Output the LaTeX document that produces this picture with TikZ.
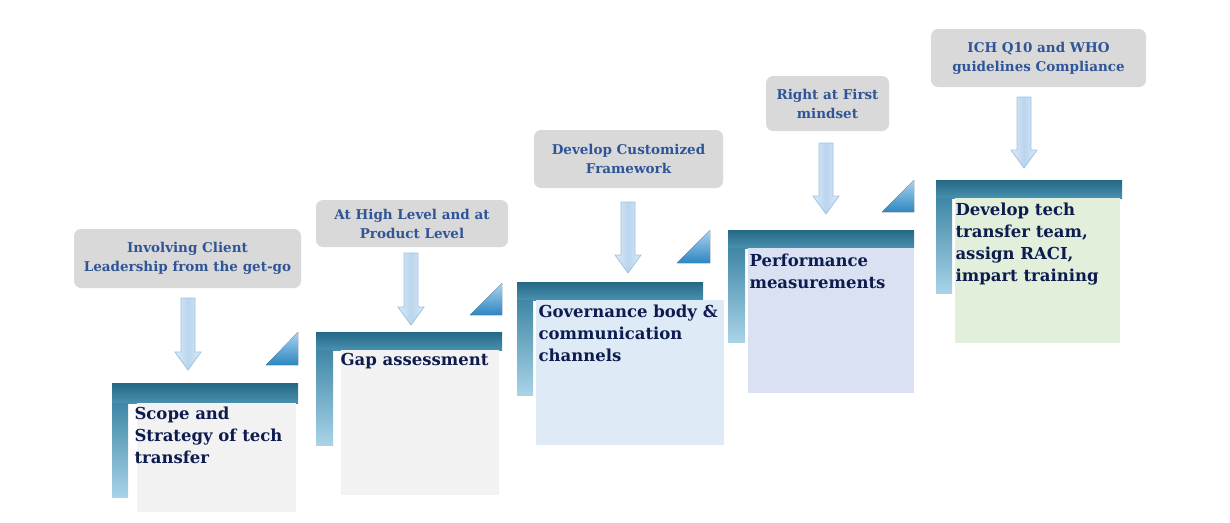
\documentclass[tikz,border=0pt]{standalone}
\usepackage{fontspec}
\setmainfont{DejaVu Serif}
\definecolor{barD}{HTML}{2A7A9C}
\definecolor{barL}{HTML}{A9D3E8}
\definecolor{callout}{HTML}{D9D9D9}
\definecolor{ctext}{HTML}{2F5597}
\definecolor{mtext}{HTML}{0D1B4F}
\definecolor{arrL}{HTML}{DDEBF7}
\definecolor{arrD}{HTML}{9DC3E6}
\definecolor{triD}{HTML}{2E86C1}
\definecolor{triL}{HTML}{A9D3F0}
\tikzset{
  callout/.style={fill=callout,rounded corners=7pt,draw=none,align=center,text=ctext,font=\fontsize{13.5}{19}\selectfont\bfseries},
  main/.style={anchor=north west,align=left,text=mtext,font=\fontsize{16.5}{22}\selectfont\bfseries},
  barstyle/.style={top color=barD!85!black,bottom color=barD!75!barL,draw=none},
  vbar/.style={top color=barD!90,bottom color=barL,draw=none},
  arr/.style={left color=arrL,right color=arrL,middle color=arrD!70,draw=arrD,line width=0.8pt},
  tri/.style={top color=triL,bottom color=triD,draw=none}
}
\newcommand{\blockarrow}[3]{%
  \draw[arr] (#1-7,#2) -- (#1+7,#2) -- (#1+7,#3-18) -- (#1+13,#3-18) -- (#1,#3) -- (#1-13,#3-18) -- (#1-7,#3-18) -- cycle;}
\begin{document}
\begin{tikzpicture}[x=1pt,y=-1pt]
\useasboundingbox (0,0) rectangle (1230,522);
% step 1
\fill[barstyle] (112,383) rectangle (298,403);
\fill[vbar] (112,403) rectangle (128,497);
\node[fill=gray!10,minimum width=159pt,minimum height=109pt,anchor=north west,inner sep=0] (b1) at (137,403) {};
\node[main] (t1) at (131,403) {Scope and\\Strategy of tech\\transfer};
% step 2
\fill[barstyle] (316,332) rectangle (502,350);
\fill[vbar] (316,350) rectangle (333,445);
\node[fill=gray!10,minimum width=158pt,minimum height=145pt,anchor=north west,inner sep=0] (b2) at (341,350) {};
\node[main] (t2) at (337,350) {Gap assessment};
% step 3
\fill[barstyle] (517,282) rectangle (703,300);
\fill[vbar] (517,300) rectangle (533,395);
\node[fill={rgb,255:red,222;green,235;blue,247},minimum width=188pt,minimum height=145pt,anchor=north west,inner sep=0] (b3) at (536,300) {};
\node[main] (t3) at (535,301) {Governance body \&\\communication\\channels};
% step 4
\fill[barstyle] (728,230) rectangle (914,248);
\fill[vbar] (728,248) rectangle (745,342);
\node[fill={rgb,255:red,217;green,225;blue,242},minimum width=166pt,minimum height=145pt,anchor=north west,inner sep=0] (b4) at (748,248) {};
\node[main] (t4) at (746,250) {Performance\\measurements};
% step 5
\fill[barstyle] (936,180) rectangle (1122,198);
\fill[vbar] (936,198) rectangle (952,293);
\node[fill={rgb,255:red,226;green,239;blue,218},minimum width=165pt,minimum height=145pt,anchor=north west,inner sep=0] (b5) at (955,198) {};
\node[main] (t5) at (952,199) {Develop tech\\transfer team,\\assign RACI,\\impart training};
% triangles
\fill[tri] (298,332) -- (298,365) -- (266,365) -- cycle;
\fill[tri] (502,283) -- (502,315) -- (470,315) -- cycle;
\fill[tri] (710,230) -- (710,263) -- (677,263) -- cycle;
\fill[tri] (914,180) -- (914,212) -- (882,212) -- cycle;
% callouts
\node[callout,minimum width=227pt,minimum height=59pt] (c1) at (187.5,258.5) {Involving Client\\Leadership from the get-go};
\node[callout,minimum width=192pt,minimum height=47pt] (c2) at (412,223.5) {At High Level and at\\Product Level};
\node[callout,minimum width=189pt,minimum height=58pt] (c3) at (628.5,159) {Develop Customized\\Framework};
\node[callout,minimum width=123pt,minimum height=55pt] (c4) at (827.5,103.5) {Right at First\\mindset};
\node[callout,minimum width=215pt,minimum height=58pt] (c5) at (1038.5,58) {ICH Q10 and WHO\\guidelines Compliance};
% block arrows
\blockarrow{188}{298}{370}
\blockarrow{411}{253}{325}
\blockarrow{628}{202}{273}
\blockarrow{826}{143}{214}
\blockarrow{1024}{97}{168}
\end{tikzpicture}
\end{document}
